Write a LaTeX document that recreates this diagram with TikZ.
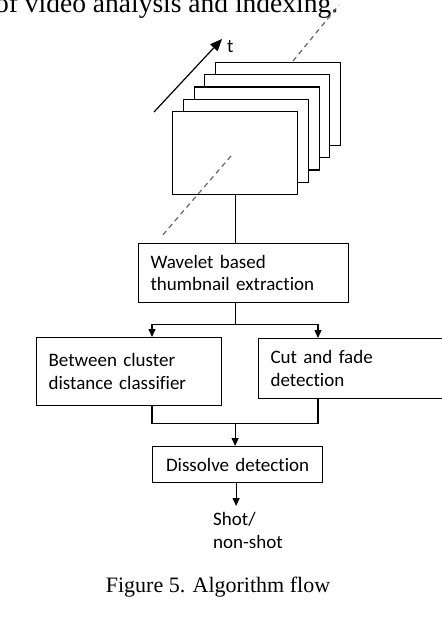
\documentclass[tikz,border=0pt]{standalone}
\usepackage{fontspec}
\setmainfont{Liberation Serif}
\newfontfamily\flowfont[Ligatures=NoCommon]{Carlito}
\usetikzlibrary{arrows.meta,positioning}
\tikzset{
	stage/.style={draw, line width=1.2pt, fill=white, anchor=north west, align=left,
		inner xsep=12pt, inner ysep=0pt, font=\flowfont\fontsize{19}{22.5}\selectfont},
	frm/.style={draw, line width=1.2pt, fill=white, anchor=north west, inner sep=0pt,
		minimum width=125pt, minimum height=83pt},
	flow/.style={line width=1.2pt},
	arr/.style={flow, -{Triangle[length=8pt,width=7pt]}},
	guide/.style={line width=1.2pt, black!60, dash pattern=on 5pt off 4pt},
}

\begin{document}
\begin{tikzpicture}[x=1pt, y=-1pt]
		%%%%% START %%%%%
		\clip (0, 0) rectangle (442, 630);
		
		\node[anchor=base west, inner sep=0pt, font=\fontsize{27.5}{30}\selectfont] (prev) at (-5, 12.5) {of video analysis and indexing.};
		
		% frames along time
		\draw[guide] (293, 61) -- (339, 5);
		\foreach \i in {4,3,2,1}
			\node[frm] (frame\i) at ({172 + 10.75*\i}, {111 - 12.3*\i}) {};
		\node[frm] (frame0) at (172, 111) {};
		\draw[guide] (231, 156) -- (161, 237);
		
		\coordinate (tfrom) at (154, 112);
		\coordinate (tto) at (222, 39);
		\draw[line width=1.2pt, -{Triangle[length=12pt,width=10pt]}] (tfrom) -- (tto);
		\node[font=\flowfont\fontsize{19}{22}\selectfont, anchor=base west, inner sep=0pt] (tlab) at (227, 52) {t};
		
		% stages
		\node[stage, text width=186pt, minimum height=59pt] (wave) at (138, 243) {Wavelet based\\thumbnail extraction};
		\node[stage, text width=161pt, minimum height=68pt] (clus) at (36, 337) {Between cluster\\distance classifier};
		\node[stage, text width=188pt, minimum height=60pt] (cut) at (258, 338) {Cut and fade\\detection};
		\node[stage, text width=146pt, minimum height=36pt, align=center] (diss) at (152, 446) {Dissolve detection};
		\node[anchor=north west, align=left, inner xsep=0pt, inner ysep=6pt,
			font=\flowfont\fontsize{19}{23}\selectfont] (res) at (213, 506) {Shot/\\non-shot};
		
		% connectors
		\coordinate (split) at ([yshift=-21pt]frame0.south |- wave.south);
		\coordinate (merge) at ([yshift=-99pt]split);
		\coordinate (clusin) at ([xshift=116pt]clus.north west);
		\coordinate (clusout) at ([xshift=116pt]clus.south west);
		\coordinate (cutin) at ([xshift=60pt]cut.north west);
		\coordinate (cutout) at ([xshift=60pt]cut.south west);
		
		\draw[flow] (frame0.south) -- (frame0.south |- wave.north);
		\draw[flow] (frame0.south |- wave.south) -- (split);
		\draw[arr] (split) -| (clusin);
		\draw[arr] (split) -| (cutin);
		\draw[flow] (clusout) |- (merge) -| (cutout);
		\draw[arr] (merge) -- (merge |- diss.north);
		\draw[arr] ([xshift=1pt]merge |- diss.south) -- ([xshift=1pt]merge |- res.north);
		
		\node[anchor=base, inner sep=0pt, font=\fontsize{22}{26}\selectfont] (cap) at (218, 592) {Figure 5. Algorithm flow};
		%%%%% END %%%%%
	\end{tikzpicture}
\end{document}
